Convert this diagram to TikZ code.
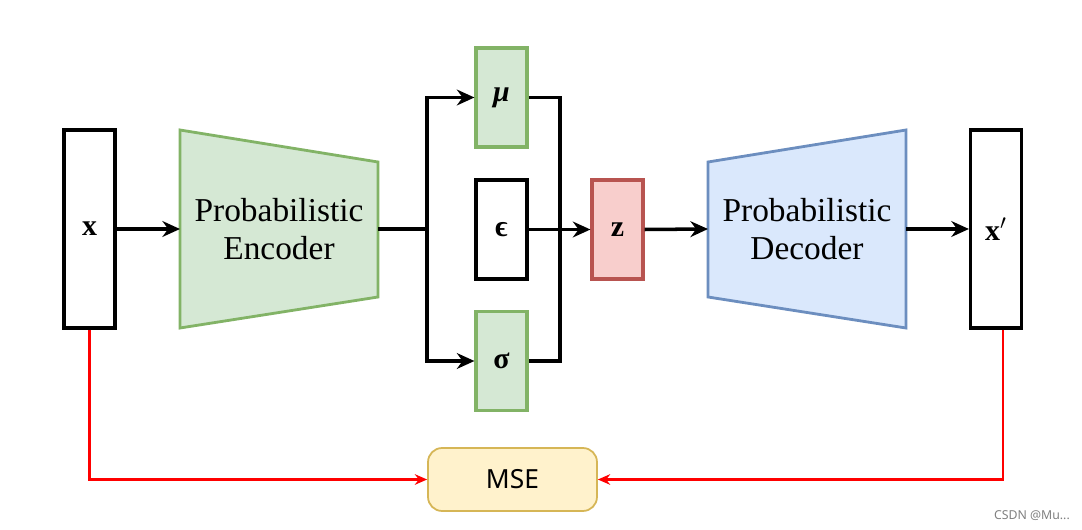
\documentclass[tikz,border=0pt]{standalone}
\usepackage{fontspec}
\setmainfont{Liberation Serif}
\newfontfamily\sansf{Noto Sans}
\usetikzlibrary{arrows.meta}
\definecolor{gfill}{HTML}{D5E8D4}\definecolor{gline}{HTML}{82B366}
\definecolor{bfill}{HTML}{DAE8FC}\definecolor{bline}{HTML}{6C8EBF}
\definecolor{rfill}{HTML}{F8CECC}\definecolor{rline}{HTML}{B85450}
\definecolor{yfill}{HTML}{FFF2CC}\definecolor{yline}{HTML}{D6B656}
\begin{document}
\begin{tikzpicture}[x=0.02cm,y=-0.02cm,
  box/.style={draw,line width=1.8pt,minimum width=1.02cm,minimum height=1.98cm,inner sep=0pt,font=\fontsize{17}{20}\selectfont\bfseries},
  tall/.style={minimum height=3.96cm},
  arr/.style={line width=2pt,-{Stealth[length=10pt,width=9pt]}},
  red/.style={draw=red,line width=1.4pt,-{Stealth[length=7pt,width=6pt]}},
  lbl/.style={font=\fontsize{19}{22}\selectfont,align=center}]
\useasboundingbox (0,0) rectangle (1082,530);
\node[box,tall] (x) at (89.5,229) {x};
\node[box,tall] (xp) at (996,229) {x$'$};
\filldraw[fill=gfill,draw=gline,line width=1.6pt] (180,130)--(378,162)--(378,297)--(180,328)--cycle;
\node[lbl] (enc) at (279,229) {Probabilistic\\Encoder};
\coordinate (encL) at (180,229); \coordinate (encR) at (378,229);
\filldraw[fill=bfill,draw=bline,line width=1.6pt] (708,162)--(906,130)--(906,328)--(708,297)--cycle;
\node[lbl] (dec) at (807,229) {Probabilistic\\Decoder};
\coordinate (decL) at (708,229); \coordinate (decR) at (906,229);
\node[box,draw=gline,fill=gfill] (mu) at (501.5,97.5) {\textit{μ}};
\node[box,draw=gline,fill=gfill] (sig) at (501.5,361) {σ};
\node[box] (eps) at (501.5,229.5) {ϵ};
\node[box,draw=rline,fill=rfill] (z) at (617.5,229.5) {z};
\node[draw=yline,fill=yfill,line width=1pt,rounded corners=8pt,minimum width=3.38cm,minimum height=1.26cm,font=\sansf\fontsize{15}{18}\selectfont] (mse) at (512.5,479.5) {MSE};
\draw[arr] (x.east) -- (encL);
\coordinate (br) at (427,229);
\draw[line width=2pt] (encR) -- (br);
\draw[arr] (br) |- (mu.west);
\draw[arr] (br) |- (sig.west);
\coordinate (j) at (560,229);
\draw[line width=2pt] (mu.east) -| (j) |- (sig.east);
\draw[arr] (eps.east) -- (z.west);
\draw[arr] (z.east) -- (decL);
\draw[arr] (decR) -- (xp.west);
\draw[red] (x.south) |- (mse.west);
\draw[red] ([xshift=4pt]xp.south) |- (mse.east);
\node[text=gray,font=\sansf\fontsize{7}{9}\selectfont,anchor=east] (wm) at (1076,516) {CSDN @Mu...};
\end{tikzpicture}
\end{document}
